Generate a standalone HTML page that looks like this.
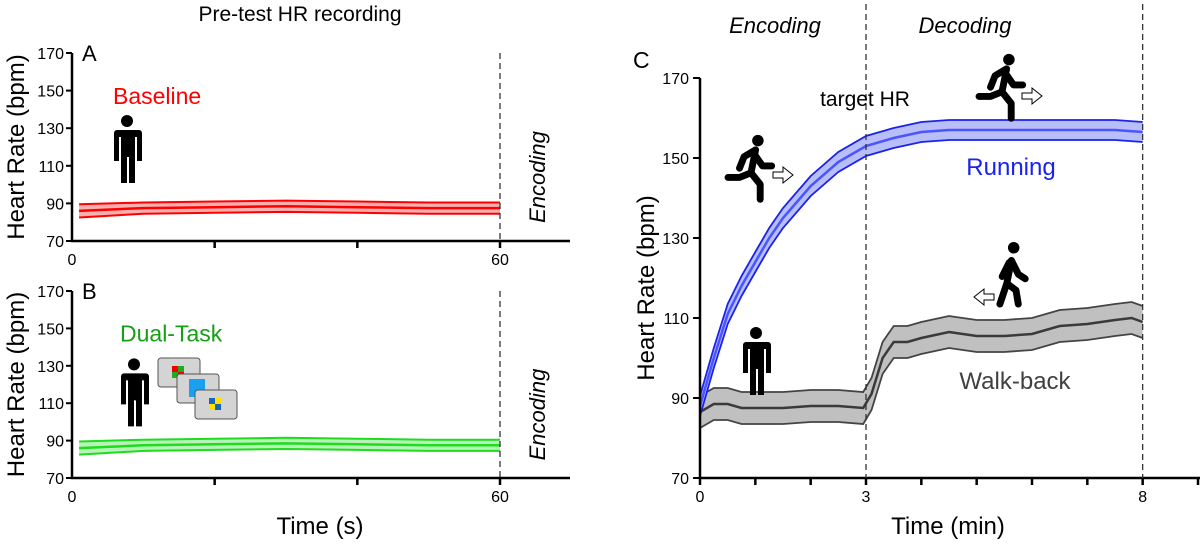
<!DOCTYPE html>
<html><head><meta charset="utf-8">
<style>
html,body{margin:0;padding:0;background:#fff;}
svg{display:block;font-family:"Liberation Sans",Arial,sans-serif;}
</style></head>
<body>
<svg id="fig" width="1200" height="549" viewBox="0 0 1200 549" xmlns="http://www.w3.org/2000/svg">
<text x="300" y="21" font-size="21" text-anchor="middle">Pre-test HR recording</text>
<g id="gA"></g>
<g id="gB"></g>
<g id="gC"></g>
</svg>
<script>
// Panel A / B data (seconds)
const abTimes=[1,10,20,30,40,50,60];
const baselineMean=[86,87.5,88,88.5,88,87.5,87.5];
const baselineErr=[3.5,3,3,3,3,3,3];
const dualMean=[86,87.5,88,88.5,88,87.5,87.5];
const dualErr=[3.5,3,3,3,3,3,3];
const yTicksAB=[70,90,110,130,150,170];
// Panel C data (minutes)
const runTimes=[0,0.25,0.5,0.75,1,1.25,1.5,2,2.5,3,3.5,4,4.5,5,5.5,6,6.5,7,7.5,8];
const runMean=[88,100,111,118,124,130,135,143,149,153,155,156.5,157,157,157,157,157,157,157,156.5];
const runErr=[2.5,2.5,2.5,2.5,2.5,2.5,2.5,2.5,2.5,2.5,2.5,2.5,2.5,2.5,2.5,2.5,2.5,2.5,2.5,2.5];
const walkTimes=[0,0.25,0.5,0.75,1,1.5,2,2.5,2.95,3.1,3.3,3.5,3.75,4,4.5,5,5.5,6,6.5,7,7.5,7.8,8];
const walkMean=[86.5,88.5,88.5,87.5,87.5,87.5,88,88,87.5,91,100,104,104,105,106.5,105.5,105.5,106,108,108.5,109.5,110,109];
const walkErr=[4,4,4,4,4,4,4,4,4,4,4,4,4,4,4,4,4,4,4,4,4,4,4];
const yTicksC=[70,90,110,130,150,170];
const xTicksC=[0,1,2,3,4,5,6,7,8,9];
const xLabelsC={0:"0",3:"3",8:"8"};

const NS="http://www.w3.org/2000/svg";
function mk(parent,tag,attrs,text){const e=document.createElementNS(NS,tag);for(const k in attrs)e.setAttribute(k,attrs[k]);if(text!==undefined)e.textContent=text;parent.appendChild(e);return e;}
function bandPath(xs,lo,hi,sx,sy){let d="M";xs.forEach((x,i)=>{d+=(i?"L":"")+sx(x).toFixed(1)+","+sy(hi[i]).toFixed(1);});for(let i=xs.length-1;i>=0;i--)d+="L"+sx(xs[i]).toFixed(1)+","+sy(lo[i]).toFixed(1);return d+"Z";}
function linePath(xs,ys,sx,sy){return xs.map((x,i)=>(i?"L":"M")+sx(x).toFixed(1)+","+sy(ys[i]).toFixed(1)).join("");}
function person(g,cx,top,h,name){
  const s=h/70;const gg=mk(g,"g",{fill:"#000",transform:`translate(${cx},${top}) scale(${s})`});
  
  
  mk(gg,"circle",{cx:0,cy:6,r:6});
  mk(gg,"path",{d:"M-12,15 h24 a3,3 0 0 1 3,3 v28 h-5 v-24 h-2 v46 h-6 v-26 h-2 v26 h-6 v-46 h-2 v24 h-5 v-28 a3,3 0 0 1 3,-3z"});
}
function runner(g,x,y,s,name){
  const gg=mk(g,"g",{transform:`translate(${x},${y}) scale(${s})`});
  
  
  mk(gg,"circle",{cx:26,cy:4,r:5,fill:"#000"});
  mk(gg,"path",{d:"M14,18 L24,12 L20,32 L10,36 L0,36 M20,32 L28,42 L28,55 M23,16 L30,26 L38,26 M14,18 L10,28",fill:"none",stroke:"#000","stroke-width":6,"stroke-linecap":"round","stroke-linejoin":"round"});
}
function walker(g,x,y,s,name){
  const gg=mk(g,"g",{transform:`translate(${x},${y}) scale(${s})`});
  
  
  mk(gg,"circle",{cx:18,cy:5,r:5,fill:"#000"});
  mk(gg,"path",{d:"M16,16 L12,36 L6,54 M12,36 L20,42 L22,54 M16,16 L22,28 L28,32 M14,18 L8,30",fill:"none",stroke:"#000","stroke-width":6,"stroke-linecap":"round","stroke-linejoin":"round"});
}
function arrow(g,x,y,dir,name){
  const d=dir>0?`M${x},${y-3} h10 v-5 l10,8 l-10,8 v-5 h-10z`:`M${x},${y-3} h-10 v-5 l-10,8 l10,8 v-5 h10z`;
  const a=mk(g,"path",{d:d,fill:"#fff",stroke:"#000","stroke-width":1});
  
  
}

function panelAB(g,yTop,yBot,label,mean,err,color,fill,name,title,tcolor){
  const x0=72,x60=500,xEnd=570;
  const sx=t=>x0+(t/60)*(x60-x0);
  const sy=v=>yBot-(v-70)/100*(yBot-yTop);
  const lo=mean.map((m,i)=>m-err[i]),hi=mean.map((m,i)=>m+err[i]);
  const band=mk(g,"path",{d:bandPath(abTimes,lo,hi,sx,sy),fill:fill,stroke:"none"});
  
  
  [lo,hi,mean].forEach((arr,k)=>{const l=mk(g,"path",{d:linePath(abTimes,arr,sx,sy),fill:"none",stroke:color,"stroke-width":k==2?2.5:2});
    
    });
  const ax=mk(g,"path",{d:`M${x0},${yTop} V${yBot} H${xEnd}`,fill:"none",stroke:"#000","stroke-width":2.5});
  
  
  yTicksAB.forEach(v=>{mk(g,"line",{x1:x0-6,x2:x0,y1:sy(v),y2:sy(v),stroke:"#000","stroke-width":2});
    const t=mk(g,"text",{x:x0-8,y:sy(v)+6,"font-size":16,"text-anchor":"end"},String(v));
    
    });
  [20,40,60].forEach(v=>mk(g,"line",{x1:sx(v),x2:sx(v),y1:yBot,y2:yBot+7,stroke:"#000","stroke-width":2.5}));
  [[0,"0"],[60,"60"]].forEach(([v,s])=>{const t=mk(g,"text",{x:sx(v),y:yBot+24,"font-size":16,"text-anchor":"middle"},s);
    
    });
  mk(g,"line",{x1:sx(60),x2:sx(60),y1:yTop,y2:yBot,stroke:"#333","stroke-width":1.3,"stroke-dasharray":"6,4"});
  const enc=mk(g,"text",{transform:`translate(${sx(60)+45},${(yTop+yBot)/2+30}) rotate(-90)`,"font-size":22,"font-style":"italic","text-anchor":"middle"},"Encoding");
  
  
  const yl=mk(g,"text",{transform:`translate(24,${(yTop+yBot)/2}) rotate(-90)`,"font-size":24,"text-anchor":"middle"},"Heart Rate (bpm)");
  
  
  const pl=mk(g,"text",{x:82,y:yTop+8,"font-size":22},label);
  
  
  const cl=mk(g,"text",{x:title[1],y:sy(143),"font-size":23,fill:tcolor},title[0]);
  
  
  return {sx,sy};
}
const gA=document.getElementById('gA'),gB=document.getElementById('gB'),gC=document.getElementById('gC');
const A=panelAB(gA,53,241,"A",baselineMean,baselineErr,"#f00","#f8b0b0","baseline",["Baseline",113],"#f00");
person(gA,127,A.sy(137),70,'standing-person-icon');
const B=panelAB(gB,291,478,"B",dualMean,dualErr,"#1fdc1f","#b8f4b8","dual-task",["Dual-Task",120],"#13a013");
person(gB,134,B.sy(134),70,'standing-person-icon');
// task cards
[[158,358,[["#e00","#2a2"],["#2a2","#e00"]]],[177,374,null],[195,390,[["#1565c0","#ffe000"],["#ffe000","#1565c0"]]]].forEach(([x,y,q],i)=>{
  const c=mk(gB,"rect",{x:x,y:y,width:42,height:29,rx:3,fill:"#d4d4d4",stroke:"#555","stroke-width":1});
  
  
  if(q){q.forEach((row,r)=>row.forEach((col,k)=>mk(gB,"rect",{x:x+14+k*6,y:y+8+r*6,width:6,height:6,fill:col})));}
  else mk(gB,"rect",{x:x+12,y:y+5,width:16,height:18,fill:"#19a0f0"});
});
const xt=mk(gB,"text",{x:320,y:534,"font-size":24,"text-anchor":"middle"},"Time (s)");



// Panel C
(function(){
  const x0=700,x3=866,yTop=78,yBot=478,xEnd=1200;
  const sx=t=>x0+t*(x3-x0)/3;
  const sy=v=>yBot-(v-70)/100*(yBot-yTop);
  function series(ts,mean,err,color,fill,edge,name){
    const lo=mean.map((m,i)=>m-err[i]),hi=mean.map((m,i)=>m+err[i]);
    const b=mk(gC,"path",{d:bandPath(ts,lo,hi,sx,sy),fill:fill,stroke:"none"});
    
    
    [lo,hi].forEach(a=>{const l=mk(gC,"path",{d:linePath(ts,a,sx,sy),fill:"none",stroke:edge,"stroke-width":1.8});
      
      });
    const m=mk(gC,"path",{d:linePath(ts,mean,sx,sy),fill:"none",stroke:color,"stroke-width":2.5});
    
    
  }
  series(walkTimes,walkMean,walkErr,"#3a3a3a","#c0c0c0","#444","walk-back");
  series(runTimes,runMean,runErr,"#4a55ff","#b8bef8","#1a22ee","running");
  const ax=mk(gC,"path",{d:`M${x0},${yTop} V${yBot} H${xEnd}`,fill:"none",stroke:"#000","stroke-width":2.5});
  
  
  yTicksC.forEach(v=>{mk(gC,"line",{x1:x0-7,x2:x0,y1:sy(v),y2:sy(v),stroke:"#000","stroke-width":2});
    const t=mk(gC,"text",{x:x0-11,y:sy(v)+6,"font-size":16,"text-anchor":"end"},String(v));
    
    });
  xTicksC.forEach(v=>{mk(gC,"line",{x1:sx(v),x2:sx(v),y1:yBot,y2:yBot+7,stroke:"#000","stroke-width":2.5});
    if(xLabelsC[v]!==undefined){const t=mk(gC,"text",{x:sx(v),y:yBot+24,"font-size":16,"text-anchor":"middle"},xLabelsC[v]);
      
      }});
  [3,8].forEach(v=>{const l=mk(gC,"line",{x1:sx(v),x2:sx(v),y1:4,y2:yBot,stroke:"#333","stroke-width":1.3,"stroke-dasharray":"6,4"});
    
    });
  const lbl=[["Encoding",775,33,"encoding-label"],["Decoding",965,33,"decoding-label"]];
  lbl.forEach(([s,x,y,n])=>{const t=mk(gC,"text",{x:x,y:y,"font-size":22,"font-style":"italic","text-anchor":"middle"},s);
    
    });
  const c=mk(gC,"text",{x:633,y:68,"font-size":23},"C");
  
  
  const th=mk(gC,"text",{x:865,y:106,"font-size":21,"text-anchor":"middle"},"target HR");
  
  
  const r=mk(gC,"text",{x:1011,y:175,"font-size":24,fill:"#1a22ee","text-anchor":"middle"},"Running");
  
  
  const w=mk(gC,"text",{x:1015,y:389,"font-size":24,fill:"#404040","text-anchor":"middle"},"Walk-back");
  
  
  const yl=mk(gC,"text",{transform:`translate(654,${(yTop+yBot)/2+10}) rotate(-90)`,"font-size":24,"text-anchor":"middle"},"Heart Rate (bpm)");
  
  
  const xtC=mk(gC,"text",{x:948,y:534,"font-size":24,"text-anchor":"middle"},"Time (min)");
  
  
  person(gC,756,327,70,'standing-person-icon');
  runner(gC,728,136,1.15,'running-person-icon');
  arrow(gC,773,175,1,'forward-arrow');
  runner(gC,979,55,1.15,'running-person-icon');
  arrow(gC,1022,96,1,'forward-arrow');
  walker(gC,993,242,1.15,'walking-person-icon');
  arrow(gC,994,297,-1,'backward-arrow');
})();
</script>
</body></html>
